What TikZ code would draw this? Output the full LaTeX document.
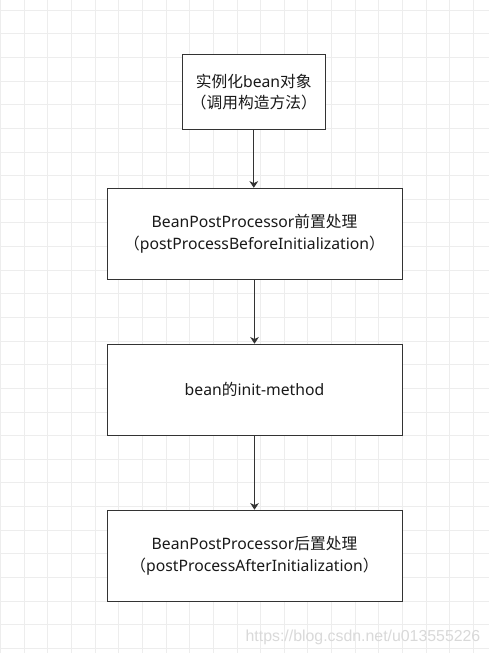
\documentclass[tikz,border=0pt]{standalone}
\usepackage{fontspec}
\setmainfont{Noto Sans}
\newfontfamily\cjk{Noto Sans CJK SC}
\newfontfamily\urlfont{Liberation Sans}
\usetikzlibrary{arrows.meta}

\begin{document}
\begin{tikzpicture}[x=0.75pt, y=-0.75pt,
    box/.style = {draw=black!80, line width=0.75pt, fill=white, align=center, inner sep=0pt,
                  text=black!90, font=\fontsize{11.8}{16}\selectfont},
    link/.style = {draw=black!80, line width=0.75pt, -{Stealth[length=5pt, width=6.5pt, inset=1.5pt]}}]
                \useasboundingbox (0,0) rectangle (489,653);
                \fill[white] (0,0) rectangle (489,653);
                % grid
                \foreach \k in {0,...,20}
                    \draw[line width=0.75pt, black!\ifodd\k 14\else 7\fi] (0.7+23.63*\k,0) -- (0.7+23.63*\k,653);
                \foreach \k in {0,...,27}
                    \draw[line width=0.75pt, black!\ifodd\k 14\else 7\fi] (0,10.3+23.63*\k) -- (489,10.3+23.63*\k);
                \node[box, minimum width=107.25pt, minimum height=56.25pt] (new) at (253.8,91.8) {{\cjk 实例化}bean{\cjk 对象}\\{\cjk （调用构造方法）}};
                \node[box, minimum width=221.25pt, minimum height=68.25pt] (before) at (254.5,233.8) {BeanPostProcessor{\cjk 前置处理}\\{\cjk （}postProcessBeforeInitialization{\cjk ）}};
                \node[box, minimum width=221.25pt, minimum height=68.25pt] (init) at (254.5,389.7) {bean{\cjk 的}init-method};
                \node[box, minimum width=221.25pt, minimum height=68.25pt] (after) at (254.5,555.7) {BeanPostProcessor{\cjk 后置处理}\\{\cjk （}postProcessAfterInitialization{\cjk ）}};
                \draw[link] (new) -- (new |- before.north);
                \draw[link] (before) -- (init);
                \draw[link] (init) -- (after);
                %\draw[link] (new) -- (after);
                \node[anchor=base, text=black!15, font=\urlfont\fontsize{11.9}{14}\selectfont] (url) at (363,641) {https://blog.csdn.net/u013555226};
                \end{tikzpicture}
\end{document}
